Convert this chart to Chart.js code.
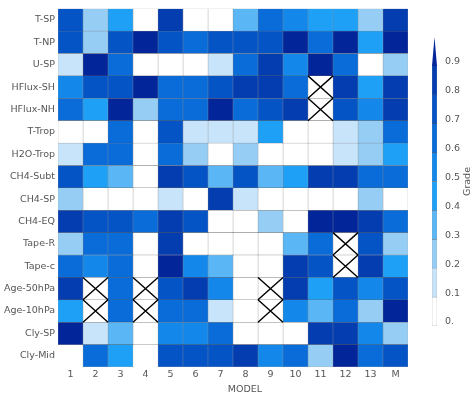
<!DOCTYPE html>
<html>
<head>
<meta charset="utf-8">
<script src="https://cdn.jsdelivr.net/npm/chart.js@4/dist/chart.umd.min.js"></script>
<style>
  html, body { margin: 0; padding: 0; background: #fff; }
  #wrap { position: relative; width: 474px; height: 398px; }
  #main { position: absolute; left: 0; top: 0; }
  #bar { position: absolute; left: 420px; top: 0; }
</style>
</head>
<body>
<div id="wrap">
  <canvas id="main" width="474" height="398"></canvas>
  <canvas id="bar" width="54" height="398"></canvas>
</div>
<script>
// ---- data ----
const rowLabels = ["T-SP","T-NP","U-SP","HFlux-SH","HFlux-NH","T-Trop","H2O-Trop","CH4-Subt",
                   "CH4-SP","CH4-EQ","Tape-R","Tape-c","Age-50hPa","Age-10hPa","Cly-SP","Cly-Mid"];
const colLabels = ["1","2","3","4","5","6","7","8","9","10","11","12","13","M"];
// "X" = crossed-out (not applicable), null = no cell
const tSP      = [0.74,0.25,0.45,0.05,0.83,0.05,0.05,0.35,0.66,0.55,0.46,0.46,0.25,0.88];
const tNP      = [0.74,0.25,0.75,0.93,0.78,0.66,0.76,0.76,0.78,0.90,0.63,0.90,0.45,0.90];
const uSP      = [0.15,0.92,0.65,0.05,0.05,0.05,0.15,0.65,0.87,0.55,0.90,0.64,0.05,0.25];
const hfluxSH  = [0.55,0.78,0.78,0.92,0.65,0.61,0.77,0.86,0.86,0.61,"X",0.88,0.45,0.88];
const hfluxNH  = [0.68,0.45,0.91,0.25,0.63,0.68,0.92,0.66,0.76,0.89,"X",0.76,0.53,0.89];
const tTrop    = [0.05,0.05,0.68,0.05,0.70,0.15,0.15,0.15,0.45,0.05,0.05,0.15,0.28,0.68];
const h2oTrop  = [0.15,0.65,0.65,0.05,0.65,0.25,0.05,0.28,0.05,0.05,0.05,0.15,0.28,0.45];
const ch4Subt  = [0.75,0.45,0.35,0.05,0.85,0.75,0.35,0.75,0.35,0.45,0.85,0.85,0.65,0.65];
const ch4SP    = [0.28,0.05,0.05,0.05,0.15,0.05,0.82,0.15,0.05,0.05,0.05,0.05,0.28,0.05];
const ch4EQ    = [0.82,0.74,0.78,0.69,0.80,0.78,0.05,0.05,0.28,0.05,0.92,0.93,0.82,0.65];
const tapeR    = [0.28,0.68,0.65,0.05,0.82,0.05,0.05,0.05,0.05,0.35,0.68,"X",0.77,0.28];
const tapeC    = [0.68,0.55,0.62,0.05,0.90,0.55,0.35,0.05,0.05,0.88,0.78,"X",0.88,0.45];
const age50    = [0.82,"X",0.68,"X",0.78,0.80,0.55,0.05,"X",0.80,0.45,0.78,0.55,0.78];
const age10    = [0.45,"X",0.65,"X",0.62,0.61,0.15,0.05,"X",0.55,0.38,0.68,0.28,0.90];
const clySP    = [0.92,0.15,0.35,0.05,0.55,0.55,0.65,0.05,0.05,0.05,0.80,0.88,0.55,0.28];
const clyMid   = [null,0.65,0.45,null,0.70,0.78,0.78,0.80,0.55,0.62,0.28,0.92,0.62,0.78];
const rows = [tSP,tNP,uSP,hfluxSH,hfluxNH,tTrop,h2oTrop,ch4Subt,ch4SP,ch4EQ,tapeR,tapeC,age50,age10,clySP,clyMid];
const levelColors = ["#ffffff","#c8e4fa","#96cdf5","#5ab6f4","#1ea0f6","#1388ea",
                     "#0a6cd8","#0554c6","#043db0","#02259a"];
const cbTicks = [0,0.1,0.2,0.3,0.4,0.5,0.6,0.7,0.8,0.9];

function colorFor(v) {
  if (v === "X" || v === null) return "#ffffff";
  return levelColors[Math.min(9, Math.floor(v * 10))];
}
const FONT = "'DejaVu Sans', sans-serif";
const TXT = "#555555";

// ---- main heatmap ----
const datasets = colLabels.map((c, ci) => ({
  label: c,
  data: rows.map(r => r[ci] === null ? null : [ci + 0.5, ci + 1.5]),
  backgroundColor: rows.map(r => colorFor(r[ci])),
  borderColor: "rgba(0,0,0,0.42)",
  borderWidth: 0.5,
  borderSkipped: false,
  barPercentage: 1,
  categoryPercentage: 1,
  grouped: false
}));

const crossPlugin = {
  id: "cross",
  afterDatasetsDraw(chart) {
    const xs = chart.scales.x, ys = chart.scales.y, ctx = chart.ctx;
    const h = Math.abs(ys.getPixelForValue(1) - ys.getPixelForValue(0));
    ctx.save();
    ctx.strokeStyle = "#000";
    ctx.lineWidth = 1.4;
    rows.forEach((r, ri) => r.forEach((v, ci) => {
      if (v !== "X") return;
      const x0 = xs.getPixelForValue(ci + 0.5), x1 = xs.getPixelForValue(ci + 1.5);
      const yc = ys.getPixelForValue(ri), y0 = yc - h / 2, y1 = yc + h / 2;
      ctx.beginPath();
      ctx.moveTo(x0, y0); ctx.lineTo(x1, y1);
      ctx.moveTo(x1, y0); ctx.lineTo(x0, y1);
      ctx.stroke();
    }));
    // x-axis title
    ctx.fillStyle = TXT;
    ctx.font = "9.5px " + FONT;
    ctx.textAlign = "center";
    ctx.textBaseline = "middle";
    ctx.fillText("MODEL", (xs.left + xs.right) / 2 + 12, xs.bottom - 8);
    ctx.restore();
  }
};

new Chart(document.getElementById("main"), {
  type: "bar",
  data: { labels: rowLabels, datasets },
  options: {
    indexAxis: "y",
    responsive: false,
    animation: false,
    layout: { padding: { top: 7, right: 66, left: 0, bottom: 0 } },
    plugins: { legend: { display: false }, tooltip: { enabled: false } },
    scales: {
      y: {
        type: "category",
        grid: { display: false, drawTicks: false },
        border: { display: false },
        ticks: { color: TXT, font: { family: FONT, size: 9.5 }, padding: 3, autoSkip: false },
        afterFit: s => { s.width = 58; }
      },
      x: {
        type: "linear",
        min: 0.5, max: 14.5,
        grid: { display: false, drawTicks: false },
        border: { display: false },
        afterBuildTicks: s => { s.ticks = colLabels.map((_, i) => ({ value: i + 1 })); },
        ticks: {
          color: TXT, font: { family: FONT, size: 9.5 }, padding: 2, maxRotation: 0,
          callback: v => colLabels[v - 1]
        },
        afterFit: s => { s.height = 31; }
      }
    }
  },
  plugins: [crossPlugin]
});

// ---- colour bar ----
const cbDatasets = levelColors.map((col, i) => ({
  data: [0.1],
  backgroundColor: i === 9 ? "rgba(0,0,0,0)" : col,
  borderColor: i === 9 ? "rgba(0,0,0,0)" : "rgba(0,0,0,0.45)",
  borderWidth: 0.5,
  borderSkipped: false,
  barPercentage: 1,
  categoryPercentage: 1
}));

const cbPlugin = {
  id: "cbExtra",
  afterDatasetsDraw(chart) {
    const ctx = chart.ctx, ys = chart.scales.y, a = chart.chartArea;
    const yTop = ys.getPixelForValue(1.0), yBase = ys.getPixelForValue(0.9);
    ctx.save();
    ctx.fillStyle = levelColors[9];
    ctx.beginPath();
    ctx.moveTo(a.left, yBase);
    ctx.lineTo(a.right, yBase);
    ctx.lineTo((a.left + a.right) / 2, yTop);
    ctx.closePath();
    ctx.fill();
    ctx.fillStyle = TXT;
    ctx.font = "9.5px " + FONT;
    ctx.textAlign = "center";
    ctx.textBaseline = "middle";
    ctx.translate(a.right + 31, (ys.getPixelForValue(0) + yTop) / 2);
    ctx.rotate(-Math.PI / 2);
    ctx.fillText("Grade", 0, 0);
    ctx.restore();
  }
};

new Chart(document.getElementById("bar"), {
  type: "bar",
  data: { labels: ["Grade"], datasets: cbDatasets },
  options: {
    responsive: false,
    animation: false,
    layout: { padding: { top: 37, bottom: 72, left: 12, right: 0 } },
    plugins: { legend: { display: false }, tooltip: { enabled: false } },
    scales: {
      x: { display: false, stacked: true },
      y: {
        stacked: true, min: 0, max: 1, position: "right",
        grid: { display: false, drawTicks: false },
        border: { display: false },
        afterBuildTicks: s => { s.ticks = cbTicks.map(v => ({ value: v })); },
        ticks: {
          color: TXT, font: { family: FONT, size: 9.5 }, padding: 8, labelOffset: -4,
          callback: v => v === 0 ? "0." : v.toFixed(1)
        },
        afterFit: s => { s.width = 37; }
      }
    }
  },
  plugins: [cbPlugin]
});
</script>
</body>
</html>
